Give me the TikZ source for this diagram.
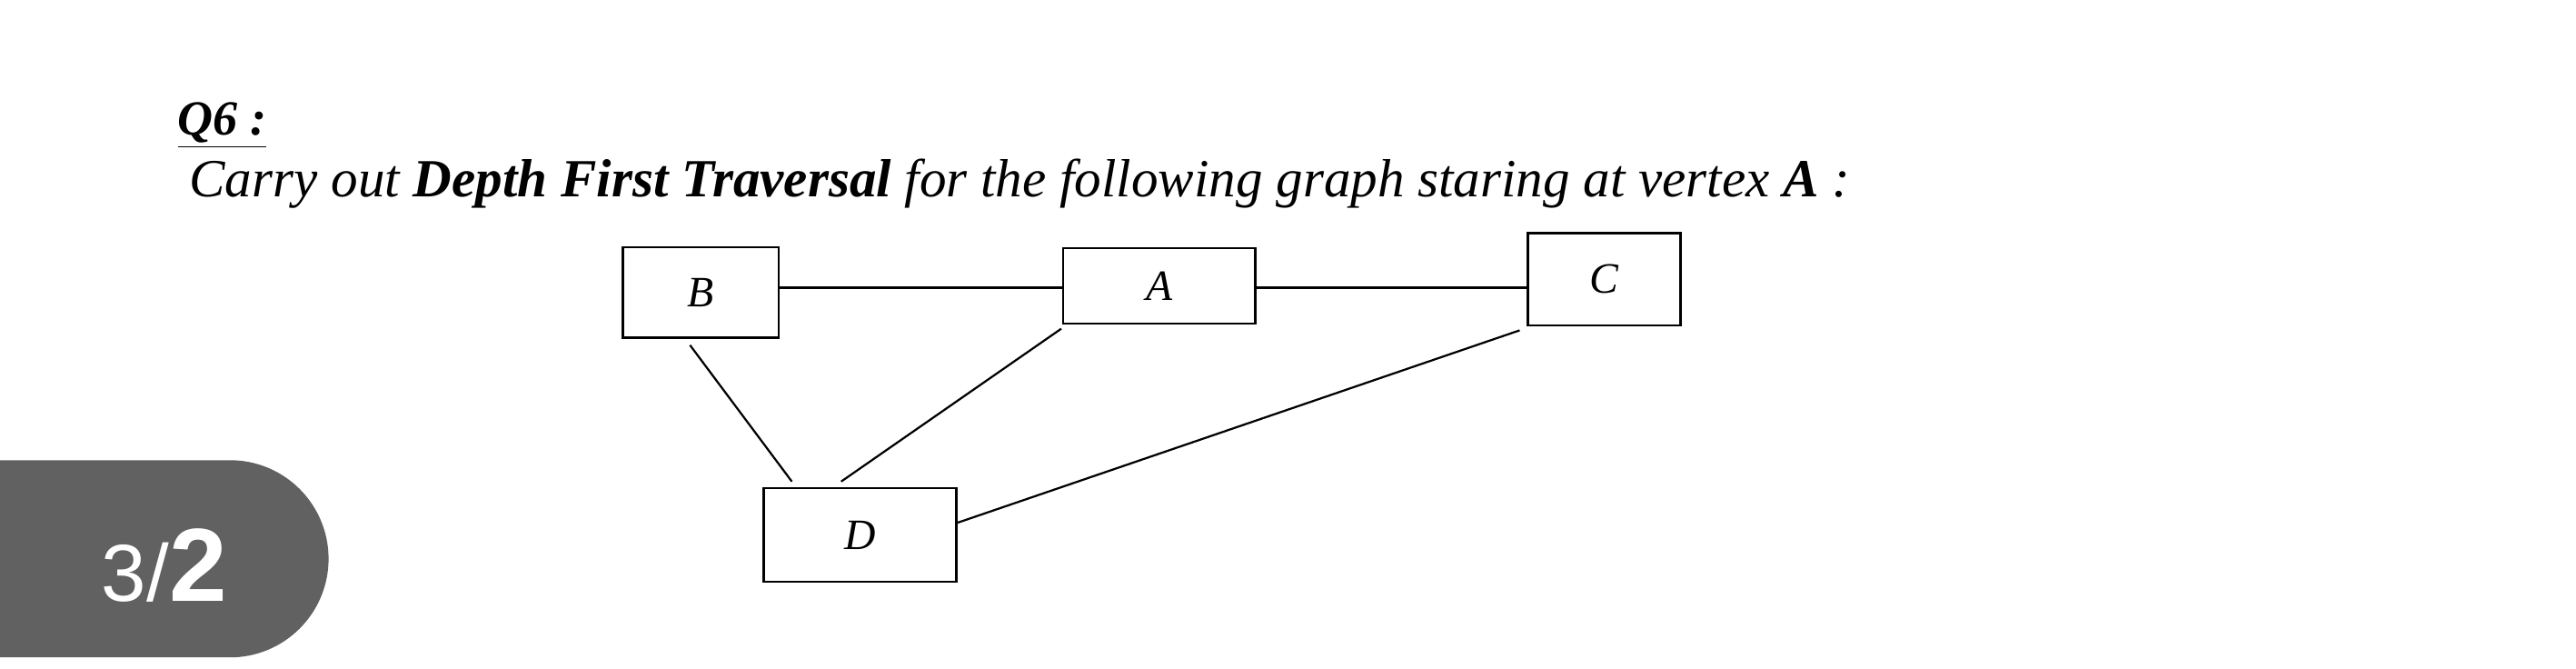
\documentclass[tikz,border=0pt]{standalone}
\usepackage{fontspec}
\setmainfont{Liberation Serif}
\newfontfamily\badgefont{Liberation Sans}
\begin{document}
\begin{tikzpicture}[x=0.02cm,y=-0.02cm,
  vbox/.style={draw,line width=0.8pt,minimum width=#1,inner sep=0pt,font=\itshape\fontsize{15}{15}\selectfont},
  edge/.style={line width=0.7pt}]
\useasboundingbox (0,0) rectangle (1568,407);
\fill[white] (0,0) rectangle (1568,407);
\fill[black!62] (-20,280) -- (140,280) arc[start angle=-90,end angle=90,radius=60] -- (-20,400) -- cycle;
\node[font=\badgefont\fontsize{28}{28}\selectfont,text=white] (badge) at (100,344) {3/{\fontsize{36}{36}\selectfont\bfseries 2}};
\node[anchor=base west,font=\itshape\bfseries\fontsize{17}{17}\selectfont,inner sep=0pt] (q) at (108,82) {\underline{Q6 :}};
\node[anchor=base west,font=\itshape\fontsize{18.6}{18.6}\selectfont,inner sep=0pt] (t) at (115,120) {Carry out \textbf{Depth First Traversal} for the following graph staring at vertex \textbf{A} :};
\node[vbox=1.9cm,minimum height=1.1cm] (B) at (426.5,178) {B};
\node[vbox=2.34cm,minimum height=0.92cm] (A) at (705.5,174) {A};
\node[vbox=1.86cm,minimum height=1.12cm] (C) at (976.5,170) {C};
\node[vbox=2.34cm,minimum height=1.14cm] (D) at (523.5,325.5) {D};
\coordinate (b1) at (420,210); \coordinate (d1) at (482,293);
\coordinate (a1) at (646,200); \coordinate (d2) at (512,293);
\coordinate (c1) at (925,201); \coordinate (d3) at (583,318);
\draw[edge] (B.east |- 0,175) -- (A.west |- 0,175);
\draw[edge] (A.east |- 0,175) -- (C.west |- 0,175);
\draw[edge] (b1) -- (d1);
\draw[edge] (a1) -- (d2);
\draw[edge] (c1) -- (d3);
\end{tikzpicture}
\end{document}
